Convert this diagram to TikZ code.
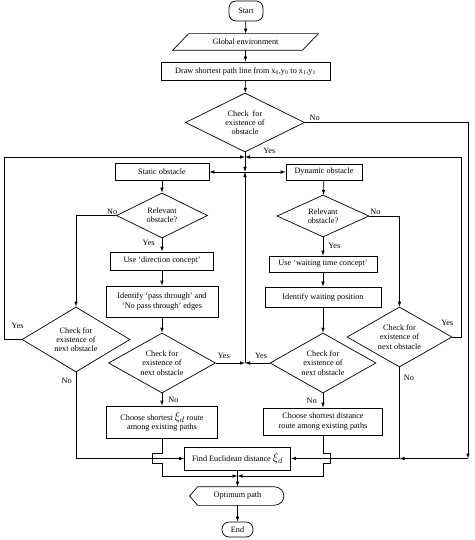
\documentclass[tikz,border=0pt]{standalone}
\usepackage{fontspec}
\setmainfont{Liberation Serif}
\usetikzlibrary{shapes.geometric,arrows.meta,positioning}

\begin{document}
\begin{tikzpicture}[x=1pt,y=-1pt,->,>={Latex[length=5pt,width=3.6pt]},line width=0.7pt,
		every node/.style={font=\fontsize{8.2}{9.3}\selectfont,align=center,inner sep=0pt},
		box/.style={rectangle,draw},
		term/.style={rectangle,draw,rounded corners=7pt},
		check/.style={diamond,draw,aspect=2}]
	\useasboundingbox (0,0) rectangle (474,540);

	\node[term,minimum width=34,minimum height=20] (start) at (246,11) {Start};
	\node[minimum width=129,minimum height=16] (env) at (245.5,42) {Global environment};
	\draw[-] ([xshift=8]env.north west) -- ([xshift=8]env.north east) -- ([xshift=-8]env.south east)
		-- ([xshift=-8]env.south west) -- cycle;
	\node[box,minimum width=169,minimum height=18] (line) at (245.5,71)
		{Draw shortest path line from x\textsubscript{0},y\textsubscript{0} to x\textsubscript{1},y\textsubscript{1}};
	\node[check,minimum width=119,minimum height=59] (chk) at (245,122.5) {Check~ for\\existence of\\obstacle};

	\node[box,minimum width=94,minimum height=17] (stat) at (162,172) {Static obstacle};
	\node[box,minimum width=76,minimum height=16] (dyn) at (324,172) {Dynamic obstacle};
	\node[check,minimum width=91,minimum height=45] (rel1) at (162,215.5) {Relevant\\obstacle?};
	\node[check,minimum width=92,minimum height=42] (rel2) at (323,216) {Relevant\\obstacle?};
	\node[box,minimum width=103,minimum height=18] (dir) at (162,261) {Use `direction concept'};
	\node[box,minimum width=108,minimum height=16] (wait) at (323,264) {Use `waiting time concept'};
	\node[box,minimum width=112,minimum height=31] (pass) at (162,301.5) {Identify `pass through' and\\`No pass through' edges};
	\node[box,minimum width=116,minimum height=20] (pos) at (323,297) {Identify waiting position};

	\node[check,minimum width=108,minimum height=65] (nxl) at (76,339.5) {Check for\\existence of\\next obstacle};
	\node[check,minimum width=107,minimum height=60] (nx1) at (162,363) {Check for\\existence of\\next obstacle};
	\node[check,minimum width=106,minimum height=60] (nx2) at (323,363) {Check for\\existence of\\next obstacle};
	\node[check,minimum width=105,minimum height=60] (nxr) at (399.5,337) {Check for\\existence of\\next obstacle};
	\node[box,minimum width=111,minimum height=32] (cho1) at (162,422) {Choose shortest {\large$\xi_d$} route\\among existing paths};
	\node[box,minimum width=119,minimum height=27] (cho2) at (323,421.5) {Choose shortest distance\\route among existing paths};

	\node[box,minimum width=106,minimum height=23] (find) at (237.5,458.5) {Find Euclidean distance {\large$\xi_d$}};
	\node[minimum width=95,minimum height=18] (opt) at (237.5,496) {Optimum path};
	\node[term,minimum width=31,minimum height=15] (end) at (237.5,529.5) {End};
	\draw[-] ([xshift=8]opt.north west) -- (opt.west) -- ([xshift=8]opt.south west) -- ([xshift=-12]opt.south east)
		.. controls ([xshift=2]opt.south east) and ([xshift=2]opt.north east) .. ([xshift=-12]opt.north east) -- cycle;

	\coordinate (jl) at (245,157);
	\coordinate (sp) at (245,172);
	\coordinate (ym) at (245,363);
	\coordinate (fr) at (468,458.5);
	\coordinate (nr) at (nxr.south |- find);
	\coordinate (jb) at (237.5,476);

	\path (start) edge (env)
		(env) edge (line)
		(line) edge (chk)
		(stat) edge (rel1)
		(rel1) edge node[pos=0.35,left=7pt] {Yes} (dir)
		(dir) edge (pass)
		(pass) edge (nx1)
		(nx1) edge node[right=6pt] {No} (cho1)
		(dyn) edge (rel2)
		(rel2) edge node[pos=0.45,right=5pt] {Yes} (wait)
		(wait) edge (pos)
		(pos) edge (nx2)
		(nx2) edge node[left=6pt] {No} (cho2)
		(find) edge (opt)
		(opt) edge (end);

	\draw (chk) -- node[pos=0,right=18pt,yshift=1pt] {Yes} (sp);
	\draw (sp) -- (stat);
	\draw (sp) -- (dyn);
	\draw (nx1) -- node[pos=0.27,above=4pt] {Yes} (ym);
	\draw (nx2) -- node[pos=0.35,above=4pt] {Yes} (ym);
	\draw (ym) -- (sp);

	\draw (chk.east) -| node[pos=0.03,above=2pt] {No} (fr);
	\draw (rel1.west) -| node[pos=0.05,above=1pt] {No} (nxl.north);
	\draw (rel2.east) -| node[pos=0.1,above=1pt] {No} (nxr.north);
	\draw (nxl.west) node[above=11pt,xshift=-4pt] {Yes} -- ([xshift=-17]nxl.west) |- (jl);
	\draw (nxr.east) node[above=11pt,xshift=-5pt] {Yes} -- ([xshift=9]nxr.east) |- (jl);

	\draw (nxl.south) |- node[pos=0.05,left=4pt] {No} (find.west);
	\draw[-] (nxr.south) -- node[pos=0.12,right=4pt] {No} (nr);
	\draw (fr) -- (nr);
	\draw (nr) -- (find.east);
	\draw (cho1.south) -- ++(0,15) -- ++(-10,0) -- ++(0,10) -- ++(10,0) |- (jb);
	\draw (cho2.south) -- ++(0,18) -- ++(7,0) -- ++(0,10) -- ++(-7,0) |- (jb);
\end{tikzpicture}
\end{document}
